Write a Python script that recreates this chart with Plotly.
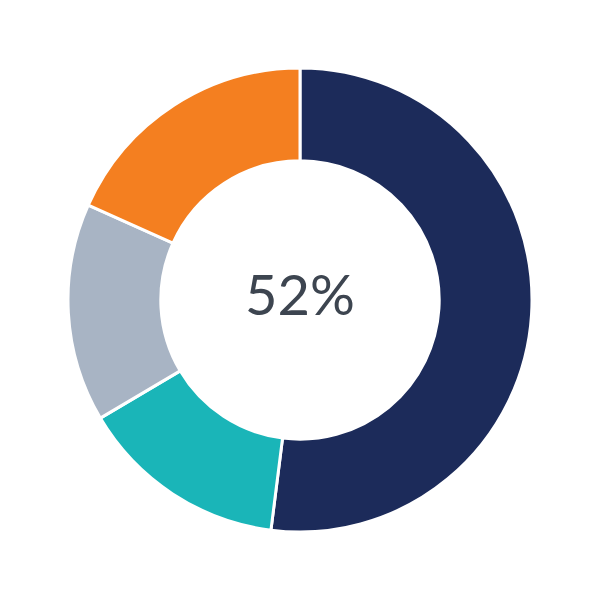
import plotly.graph_objects as go

labels = ['Navy', 'Teal', 'Gray', 'Orange']
values = [52.0, 14.5, 15.2, 18.3]
colors = ['#1c2b5a', '#1ab5b8', '#a8b4c4', '#f47f20']
center_text = '52%'

fig = go.Figure(go.Pie(labels=labels,
                       values=values,
                       hole=0.6,
                       sort=False,
                       direction='clockwise',
                       rotation=0,
                       textinfo='none',
                       hoverinfo='label+percent',
                       marker=dict(colors=colors, line=dict(color='white', width=3))))

fig.add_annotation(text=center_text, x=0.5, y=0.5, xref='paper', yref='paper',
                   showarrow=False, yshift=7,
                   font=dict(family='Lato', size=56, color='#3d4550'))

# page body has an 8px margin, so shift the pie up/left to centre it at 300,300
fig.update_layout(width=600, height=600,
                  margin=dict(l=60, r=76, t=60, b=76),
                  showlegend=False,
                  paper_bgcolor='white',
                  plot_bgcolor='white')

fig.write_html('out.html')
